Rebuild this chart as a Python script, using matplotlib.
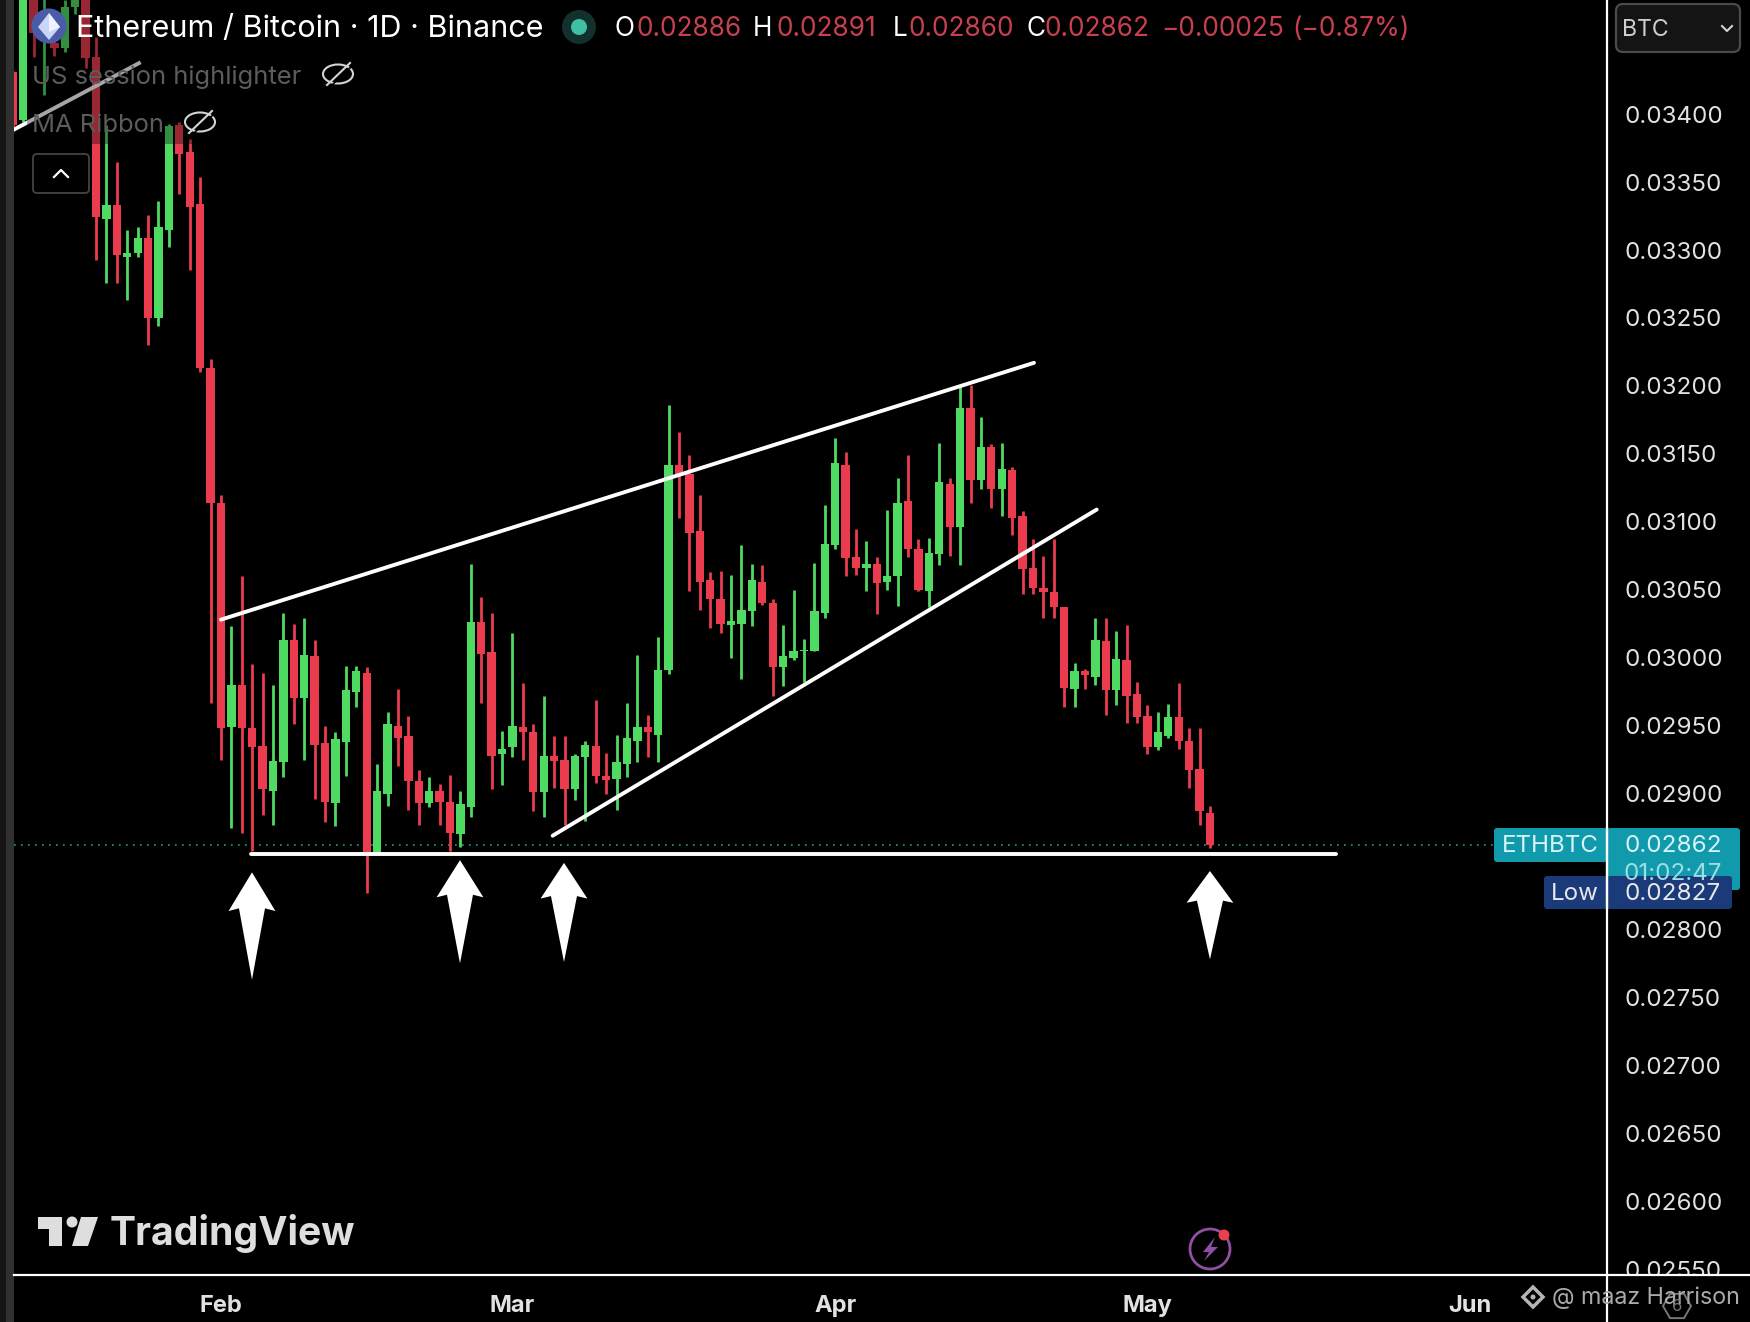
import matplotlib
matplotlib.use("Agg")
import matplotlib.pyplot as plt
import numpy as np
from matplotlib.patches import Circle, Ellipse, FancyBboxPatch, Polygon, Rectangle

plt.rcParams['font.family'] = ['Inter', 'DejaVu Sans']

# prices are in units of 0.00001, day 0 is 1 Feb
first_day = -20
opens = [3431, 3396, 3491, 3490, 3452, 3449, 3479, 3488, 3442, 3323, 3333, 3295, 3298, 3309, 3250, 3315, 3392, 3372, 3334, 3213,
         3114, 2949, 2980, 2948, 2935, 2902, 2923, 3013, 2970, 3001,
         2937, 2893, 2938, 2975, 2989, 2856, 2900, 2950, 2942, 2909,
         2893, 2902, 2894, 2870, 2890, 3026, 3004, 2929, 2934, 2949,
         2945, 2901, 2928, 2925, 2903, 2927, 2935, 2913, 2911, 2922,
         2939, 2949, 2943, 2991, 3142, 3135, 3093, 3057, 3043, 3024,
         3025, 3034, 3056, 3040, 2993, 3000, 3005, 3005, 3033, 3083,
         3142, 3074, 3066, 3069, 3056, 3060, 3115, 3080, 3049, 3076,
         3128, 3096, 3184, 3131, 3155, 3124, 3138, 3104, 3066, 3051,
         3048, 3037, 2977, 2990, 2986, 3012, 2976, 2998, 2973, 2957,
         2934, 2942, 2956, 2939, 2918, 2886]
highs = [3432, 3495, 3495, 3510, 3469, 3484, 3495, 3492, 3457, 3392, 3365, 3315, 3317, 3326, 3336, 3393, 3394, 3382, 3354, 3220,
         3120, 3023, 3060, 2995, 2989, 2980, 3033, 3025, 3029, 3013,
         2950, 2945, 2994, 2994, 2993, 2922, 2960, 2977, 2957, 2917,
         2912, 2907, 2914, 2902, 3069, 3045, 3033, 2946, 3018, 2981,
         2951, 2972, 2942, 2942, 2929, 2939, 2969, 2930, 2943, 2967,
         3002, 2958, 3015, 3186, 3166, 3149, 3120, 3063, 3064, 3061,
         3083, 3069, 3068, 3043, 3024, 3050, 3014, 3070, 3112, 3162,
         3151, 3095, 3086, 3074, 3109, 3132, 3149, 3087, 3088, 3158,
         3132, 3201, 3201, 3177, 3157, 3158, 3140, 3108, 3087, 3075,
         3087, 3037, 2996, 2992, 3029, 3029, 3020, 3024, 2982, 2965,
         2960, 2966, 2981, 2948, 2948, 2891]
lows = [3390, 3394, 3442, 3414, 3443, 3446, 3474, 3434, 3293, 3276, 3276, 3263, 3295, 3230, 3244, 3302, 3341, 3285, 3210, 2967,
        2925, 2875, 2871, 2858, 2884, 2877, 2912, 2951, 2925, 2896,
        2879, 2876, 2913, 2964, 2827, 2856, 2891, 2920, 2888, 2877,
        2890, 2877, 2858, 2861, 2883, 2967, 2903, 2906, 2927, 2925,
        2887, 2883, 2904, 2877, 2895, 2880, 2908, 2900, 2888, 2912,
        2923, 2927, 2923, 2988, 3103, 3049, 3035, 3022, 3018, 3000,
        2984, 3023, 3039, 2972, 2979, 2998, 2982, 3005, 3029, 3080,
        3060, 3061, 3049, 3032, 3050, 3038, 3074, 3049, 3037, 3068,
        3075, 3068, 3114, 3124, 3110, 3104, 3090, 3047, 3047, 3029,
        3029, 2964, 2964, 2977, 2980, 2958, 2965, 2952, 2952, 2929,
        2932, 2941, 2933, 2904, 2877, 2860]
closes = [3392, 3491, 3460, 3506, 3449, 3479, 3491, 3441, 3324, 3333, 3296, 3298, 3309, 3250, 3317, 3391, 3371, 3332, 3213, 3114,
          2948, 2980, 2948, 2934, 2903, 2924, 3013, 2970, 3002, 2936,
          2894, 2940, 2976, 2990, 2856, 2902, 2951, 2941, 2909, 2893,
          2902, 2894, 2871, 2892, 3026, 3003, 2928, 2933, 2950, 2945,
          2901, 2928, 2924, 2903, 2928, 2936, 2913, 2910, 2923, 2941,
          2949, 2945, 2991, 3142, 3135, 3092, 3056, 3043, 3025, 3027,
          3035, 3057, 3040, 2993, 3001, 3005, 3006, 3034, 3084, 3143,
          3073, 3066, 3069, 3055, 3060, 3114, 3080, 3050, 3077, 3129,
          3096, 3184, 3131, 3155, 3124, 3139, 3103, 3065, 3051, 3048,
          3037, 2978, 2990, 2987, 3013, 2976, 2999, 2972, 2956, 2934,
          2945, 2956, 2939, 2917, 2887, 2862]

# 0.02850 has no label, the price tags sit there
price_ticks = [0.0255, 0.0260, 0.0265, 0.0270, 0.0275, 0.0280, 0.0290, 0.0295,
               0.0300, 0.0305, 0.0310, 0.0315, 0.0320, 0.0325, 0.0330, 0.0335, 0.0340]
month_days = [0, 28, 59, 89, 120]
month_names = ["Feb", "Mar", "Apr", "May", "Jun"]

# drawn trend lines: (days), (prices)
upper_line = ([0.0, 78.1], [0.03028, 0.03217])
lower_line = ([31.86, 84.12], [0.02869, 0.03109])
support_line = ([2.9, 107.1], [0.028555, 0.028555])
corner_line = ([-19.8, -7.88], [0.03389, 0.034375])

# arrows under the support line
arrow_days = [2.98, 22.96, 32.95, 95.0]
arrow_tips = [0.02842, 0.02851, 0.02849, 0.02843]
arrow_tails = [0.02763, 0.02775, 0.02776, 0.02778]

last_price = 0.02862
GREEN = "#4fdb62"
RED = "#ea3b4f"
HEAD_RED = "#c8404f"

fig = plt.figure(figsize=(17.5, 13.22), dpi=100, facecolor="black")
ax = fig.add_axes([14 / 1750, 47 / 1322, (1607 - 14) / 1750, 1275 / 1322])
ax.set_facecolor("black")
ax.set_xlim(-19.88, 133.14)
ax.set_ylim(0.025457, 0.03484)

days = np.arange(first_day, first_day + len(opens))
o = np.array(opens) / 1e5
h = np.array(highs) / 1e5
l = np.array(lows) / 1e5
c = np.array(closes) / 1e5
colors = [GREEN if a >= b else RED for a, b in zip(c, o)]
ax.vlines(days, l, h, colors=colors, linewidth=2.0, zorder=2)
ax.bar(days, np.abs(c - o), bottom=np.minimum(o, c), width=0.8, color=colors, linewidth=0, zorder=3)

ax.axhline(last_price, color="#1f9e8f", linewidth=1.2, dashes=(1, 3.2), zorder=1)

for xs, ys in [upper_line, lower_line, support_line]:
    ax.plot(xs, ys, color="white", linewidth=2.8, solid_capstyle="round", zorder=5)
ax.plot(corner_line[0], corner_line[1], color="white", linewidth=2.8, zorder=4)

for d, tip, tail in zip(arrow_days, arrow_tips, arrow_tails):
    span = tip - tail
    pts = [(d, tip), (d + 2.25, tip - 0.36 * span), (d + 1.25, tip - 0.335 * span), (d, tail),
           (d - 1.25, tip - 0.335 * span), (d - 2.25, tip - 0.36 * span)]
    ax.add_patch(Polygon(pts, closed=True, color="white", linewidth=0, zorder=5))

# legend strip dims the candles under it
ax.add_patch(Rectangle((-18.6, 0.03378), 17.1, 0.0011, color="black", alpha=0.35, linewidth=0, zorder=6))

ax.set_yticks(price_ticks)
ax.set_yticklabels([f"{t:.5f}" for t in price_ticks])
ax.yaxis.tick_right()
ax.tick_params(axis="y", length=0, pad=12.5, labelsize=17.4, labelcolor="#e2e2e2")
ax.set_xticks(month_days)
ax.set_xticklabels(month_names, fontweight="bold")
ax.tick_params(axis="x", length=0, pad=14.5, labelsize=17, labelcolor="#e2e2e2")
for s in ax.spines.values():
    s.set_visible(False)

# everything that sits on top of the chart, in pixels
px = fig.add_axes([0, 0, 1, 1])
px.set_xlim(0, 1750)
px.set_ylim(1322, 0)
px.axis("off")


def label(x, y, s, color="white", size=17.4, ha="left", **kw):
    px.text(x, y + 4.5, s, color=color, fontsize=size, ha=ha, va="center", **kw)


def eye(x, y):
    px.add_patch(Ellipse((x, y), 30, 19, fill=False, edgecolor="#d5d5d5", linewidth=1.5))
    px.plot([x - 11, x + 12], [y + 11, y - 11], color="#d5d5d5", linewidth=1.5)
    px.plot([x - 7, x + 15], [y + 12, y - 9], color="black", linewidth=1.2)


px.add_patch(Rectangle((0, 0), 6, 1322, color="#151515", linewidth=0))
px.add_patch(Rectangle((6, 0), 8, 1322, color="#303030", linewidth=0))
px.add_patch(Rectangle((1607, 1276), 143, 46, color="black", linewidth=0))
px.plot([14, 1750], [1275, 1275], color="white", linewidth=1.6)
px.plot([1607, 1607], [0, 1322], color="white", linewidth=1.6)

# header
px.add_patch(Circle((49, 26), 17.5, color="#4a5ca8", linewidth=0))
px.add_patch(Polygon([(49, 13), (60, 27), (49, 40), (38, 27)], color="#c9d6f5", linewidth=0))
px.add_patch(Polygon([(49, 13), (60, 27), (49, 32)], color="#eef3ff", linewidth=0))
label(76, 25, "Ethereum / Bitcoin · 1D · Binance", size=22)
px.add_patch(Circle((579, 27), 17, color="#12302c", linewidth=0))
px.add_patch(Circle((579, 27), 8, color="#3fbfa5", linewidth=0))
for x, s, col in [(615, "O", "white"), (636, "0.02886", HEAD_RED), (753, "H", "white"), (776, "0.02891", HEAD_RED),
                  (893, "L", "white"), (908, "0.02860", HEAD_RED), (1026, "C", "white"), (1045, "0.02862", HEAD_RED),
                  (1161, "−0.00025", HEAD_RED), (1292, "(−0.87%)", HEAD_RED)]:
    label(x, 25, s, color=col, size=18.9)
label(32, 73, "US session highlighter", color="#5c5c5c", size=18.4)
label(32, 121, "MA Ribbon", color="#5c5c5c", size=18.4)
eye(338, 74)
eye(200, 122)
px.add_patch(FancyBboxPatch((33, 154), 56, 39, boxstyle="round,pad=0,rounding_size=4", fill=False,
                            edgecolor="#444444", linewidth=1.3))
px.plot([54, 61, 68], [177, 170, 177], color="white", linewidth=1.6)

# currency box
px.add_patch(FancyBboxPatch((1616, 4), 124, 48, boxstyle="round,pad=0,rounding_size=7", facecolor="#141414",
                            edgecolor="#4a4a4a", linewidth=1.6))
label(1622, 25, "BTC", color="#cfcfcf", size=16.6)
px.plot([1722, 1727, 1732], [26, 31, 26], color="#d5d5d5", linewidth=1.5)

# price labels
px.add_patch(FancyBboxPatch((1494, 828), 113, 34, boxstyle="round,pad=0,rounding_size=3", color="#119aab", linewidth=0))
px.add_patch(FancyBboxPatch((1607, 828), 133, 62, boxstyle="round,pad=0,rounding_size=3", color="#119aab", linewidth=0))
label(1550, 842, "ETHBTC", color="#d6f3f6", ha="center")
label(1673, 842, "0.02862", color="#d6f3f6", ha="center")
label(1673, 870, "01:02:47", color="#9fdde4", ha="center")
px.add_patch(FancyBboxPatch((1544, 876), 63, 33, boxstyle="round,pad=0,rounding_size=3", color="#1b3a7a", linewidth=0))
px.add_patch(FancyBboxPatch((1607, 876), 125, 33, boxstyle="round,pad=0,rounding_size=3", color="#1b3a7a", linewidth=0))
label(1575, 889, "Low", ha="center", color="#e8e8e8")
label(1673, 889, "0.02827", ha="center", color="#e8e8e8")
px.plot([1607, 1607], [828, 909], color="white", linewidth=1.6)

# TradingView mark
px.add_patch(Polygon([(38, 1217), (62, 1217), (62, 1246), (49, 1246), (49, 1229), (38, 1229)], color="#dedede", linewidth=0))
px.add_patch(Circle((72, 1222), 5.5, color="#dedede", linewidth=0))
px.add_patch(Polygon([(81, 1217), (98, 1217), (88, 1246), (72, 1246)], color="#dedede", linewidth=0))
label(110, 1229, "TradingView", color="#dedede", size=28.2, fontweight="bold")

# lightning badge
px.add_patch(Circle((1210, 1249), 20, fill=False, edgecolor="#8f4fa3", linewidth=2))
px.add_patch(Polygon([(1215, 1237), (1203, 1252), (1209, 1252), (1204, 1261), (1218, 1247), (1211, 1247)], color="#8f4fa3", linewidth=0))
px.add_patch(Circle((1224, 1235), 5.5, color="#e8404f", linewidth=0))

# watermark
px.add_patch(Polygon([(1533, 1287), (1543, 1297), (1533, 1307), (1523, 1297)], fill=False, edgecolor="#b5b5b5", linewidth=2.5))
px.add_patch(Circle((1533, 1297), 2.5, color="#b5b5b5", linewidth=0))
label(1552, 1293, "@ maaz Harrison", color="#aaaaaa", size=16.8)
hex_t = np.deg2rad(np.arange(0, 360, 60))
px.add_patch(Polygon(np.c_[1677 + 14 * np.cos(hex_t), 1306 + 14 * np.sin(hex_t)], fill=False, edgecolor="#777777", linewidth=1.4))
label(1677, 1302, "6", color="#777777", size=12, ha="center")

fig.savefig("out.png", dpi=100, facecolor="black")
